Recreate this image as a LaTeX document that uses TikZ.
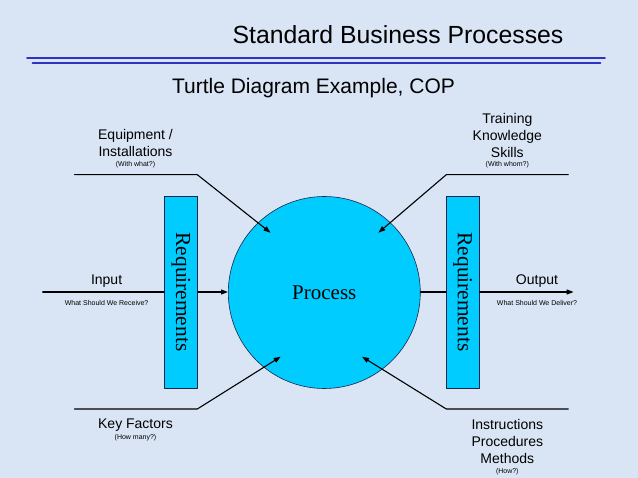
\documentclass[tikz,border=0pt]{standalone}
\usepackage{graphicx}
\usepackage{fontspec}
\setmainfont{Liberation Sans}
\newfontfamily\procfont{Liberation Serif}
\usetikzlibrary{arrows.meta}
\definecolor{bgblue}{rgb}{0.85,0.9,0.96}
\definecolor{ruleblue}{rgb}{0.18,0.2,0.78}
\definecolor{proccyan}{rgb}{0.,0.8,1.}
\definecolor{edgenavy}{rgb}{0.1,0.15,0.3}
\tikzset{
  lbl/.style={align=center,font=\fontsize{14}{16.7}\selectfont,inner sep=0pt},
  hint/.style={font=\fontsize{7}{8}\selectfont,inner sep=0pt},
  reqbox/.style={draw=edgenavy,fill=proccyan,line width=0.6pt,minimum width=33pt,minimum height=192pt,inner sep=0pt},
  feed/.style={line width=1.1pt},
  flow/.style={line width=1.1pt,-{Triangle[length=7pt,width=5pt]}}
}

\begin{document}
\begin{tikzpicture}[line cap=round,line join=round,x=1pt,y=-1pt]
\fill[bgblue] (0,0) rectangle (638,478);
\useasboundingbox (0,0) rectangle (638,478);
% title and rules
\node[anchor=base,inner sep=0pt,font=\fontsize{24.8}{28}\selectfont] (title) at (398,43.3) {Standard Business Processes};
\draw[ruleblue,line width=1.8pt] (27,58) -- (605,58);
\draw[ruleblue,line width=1.8pt] (32.5,62.7) -- (600.5,62.7);
\node[anchor=base,inner sep=0pt,font=\fontsize{21}{24}\selectfont] (subtitle) at (313.5,93.5) {Turtle Diagram Example, COP};
% process and requirements
\node[circle,draw=edgenavy,fill=proccyan,line width=0.6pt,minimum size=192pt,inner sep=0pt,font=\procfont\fontsize{21}{24}\selectfont] (proc) at (324.3,292.5) {Process};
\node[reqbox] (reqL) at (181,292) {\rotatebox{-90}{\procfont\fontsize{21.4}{24}\selectfont Requirements}};
\node[reqbox] (reqR) at (462.8,292) {\rotatebox{-90}{\procfont\fontsize{21.4}{24}\selectfont Requirements}};
% input and output
\coordinate (inEnd) at (42.7,292);
\coordinate (outEnd) at (573.6,292);
\draw[feed] (inEnd) -- (reqL);
\draw[flow] (reqL) -- (reqL -| proc.west);
\draw[feed] (reqR -| proc.east) -- (reqR);
\draw[flow] (reqR) -- (outEnd);
\node[lbl,anchor=base] (inLbl) at (106.6,284.3) {Input};
\node[hint,anchor=base] (inHint) at (106.6,305.2) {What Should We Receive?};
\node[lbl,anchor=base] (outLbl) at (537,284.3) {Output};
\node[hint,anchor=base] (outHint) at (537,305.2) {What Should We Deliver?};
% the four legs
\coordinate (eqEnd) at (74.4,174.7);
\coordinate (eqBend) at (197.3,174.7);
\coordinate (eqTip) at (270.5,232.7);
\draw[flow] (eqEnd) -- (eqBend) -- (eqTip);
\coordinate (trEnd) at (568.3,174.7);
\coordinate (trBend) at (446.3,174.7);
\coordinate (trTip) at (378.4,232.7);
\draw[flow] (trEnd) -- (trBend) -- (trTip);
\coordinate (kfEnd) at (74.4,409);
\coordinate (kfBend) at (197.3,409);
\coordinate (kfTip) at (280.7,356.7);
\draw[flow] (kfEnd) -- (kfBend) -- (kfTip);
\coordinate (inEndR) at (568.3,409);
\coordinate (inBendR) at (446.3,409);
\coordinate (inTipR) at (362,356.7);
\draw[flow] (inEndR) -- (inBendR) -- (inTipR);
% leg labels
\node[lbl,anchor=base] (eqLbl) at (135.5,140) {Equipment /};
\node[lbl,anchor=base] (eqLbl2) at (135.5,156.7) {Installations};
\node[hint,anchor=base] (eqHint) at (135.5,166.8) {(With what?)};
\node[lbl,anchor=base] (trLbl) at (507.3,123.3) {Training};
\node[lbl,anchor=base] (trLbl2) at (507.3,140.7) {Knowledge};
\node[lbl,anchor=base] (trLbl3) at (507.3,157.3) {Skills};
\node[hint,anchor=base] (trHint) at (507.3,166.8) {(With whom?)};
\node[lbl,anchor=base] (kfLbl) at (135.5,428.8) {Key Factors};
\node[hint,anchor=base] (kfHint) at (135.5,439.8) {(How many?)};
\node[lbl,anchor=base] (ipLbl) at (507.3,429.3) {Instructions};
\node[lbl,anchor=base] (ipLbl2) at (507.3,446.7) {Procedures};
\node[lbl,anchor=base] (ipLbl3) at (507.3,463.7) {Methods};
\node[hint,anchor=base] (ipHint) at (507.3,473.5) {(How?)};
\end{tikzpicture}
\end{document}
